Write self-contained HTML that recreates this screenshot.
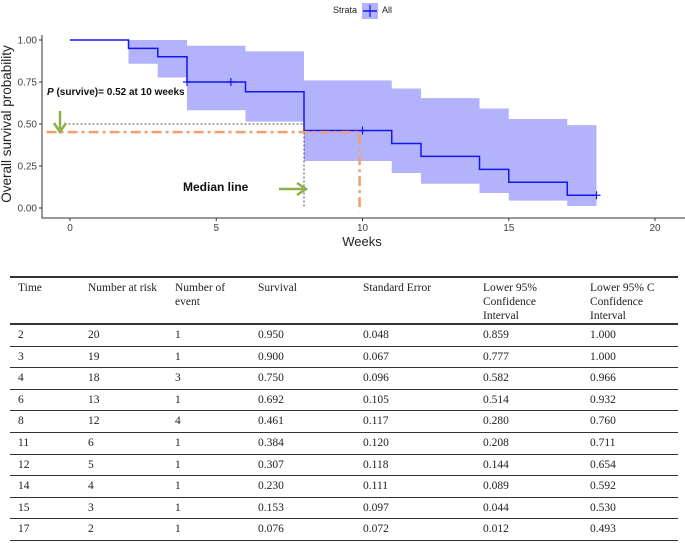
<!DOCTYPE html>
<html><head><meta charset="utf-8"><style>
body{margin:0;background:#fff;width:685px;height:543px;overflow:hidden;position:relative;font-family:"Liberation Sans",sans-serif}
table{position:absolute;left:10px;top:276px;width:668px;border-collapse:collapse;table-layout:fixed;font-family:"Liberation Serif",serif;font-size:11.5px;color:#222}
td{vertical-align:top;padding:3px 0 0 8px;border-bottom:1.3px solid #333;height:17.6px;line-height:14px;white-space:nowrap;overflow:hidden}
thead td{border-top:2px solid #333;border-bottom:2px solid #333;height:40px;line-height:14px}
</style></head><body>
<svg id="chart" width="685" height="260" style="position:absolute;left:0;top:0" font-family="Liberation Sans, sans-serif">
<g>
<text x="333" y="13" font-size="9" fill="#222">Strata</text>
<rect x="362" y="3" width="16" height="16" fill="#b3b3fb"/>
<line x1="363" y1="11" x2="377" y2="11" stroke="#1515f0" stroke-width="1.5"/><line x1="370" y1="5" x2="370" y2="17" stroke="#1515f0" stroke-width="1.2"/>
<text x="382" y="13" font-size="9" fill="#222">All</text></g>
<g id="plot"></g>
</svg>
<table>
<colgroup><col style="width:70px"><col style="width:87px"><col style="width:83px"><col style="width:105px"><col style="width:120px"><col style="width:107px"><col style="width:96px"></colgroup>
<thead><tr><td>Time</td><td>Number at risk</td><td>Number of<br>event</td><td>Survival</td><td>Standard Error</td><td>Lower 95%<br>Confidence<br>Interval</td><td>Lower 95% C<br>Confidence<br>Interval</td></tr></thead>
<tbody id="tb"></tbody></table>
<script>
const times=[2,3,4,6,8,11,12,14,15,17];
const atRisk=[20,19,18,13,12,6,5,4,3,2];
const events=[1,1,3,1,4,1,1,1,1,1];
const surv=[0.950,0.900,0.750,0.692,0.461,0.384,0.307,0.230,0.153,0.076];
const se=[0.048,0.067,0.096,0.105,0.117,0.120,0.118,0.111,0.097,0.072];
const lower=[0.859,0.777,0.582,0.514,0.280,0.208,0.144,0.089,0.044,0.012];
const upper=[1.000,1.000,0.966,0.932,0.760,0.711,0.654,0.592,0.530,0.493];
const censor=[4,5.5,10,18];
const endTime=18;
const xTicks=[0,5,10,15,20];
const yTicks=[0,0.25,0.5,0.75,1];
const X=v=>70+v*29.25, Y=v=>208-v*168;
const NS='http://www.w3.org/2000/svg', g=document.getElementById('plot');
function mk(t,a,n){const e=document.createElementNS(NS,t);for(const k in a)e.setAttribute(k,a[k]);


g.appendChild(e);return e;}
let p='';
for(let i=0;i<times.length;i++){const x0=X(times[i]),x1=X(i<times.length-1?times[i+1]:endTime);
p+=`M${x0},${Y(upper[i])}H${x1}V${Y(lower[i])}H${x0}Z`;}
mk('path',{d:p,fill:'#b3b3fb'},'confidence-band');
let d=`M${X(0)},${Y(1)}`;
for(let i=0;i<times.length;i++){d+=`H${X(times[i])}V${Y(surv[i])}`;}
d+=`H${X(endTime)}`;
mk('path',{d:d,fill:'none',stroke:'#1515f0','stroke-width':1.5},'survival-curve');
function survAt(t){let s=1;for(let i=0;i<times.length;i++)if(times[i]<=t)s=surv[i];return s;}
censor.forEach(c=>{const x=X(c),y=Y(survAt(c));mk('path',{d:`M${x-4},${y}H${x+4}M${x},${y-4}V${y+4}`,stroke:'#1515f0','stroke-width':1.2},'censor-mark');});
mk('path',{d:`M${X(-0.05)},${Y(0.5)}H${X(8)}V${Y(0)}`,fill:'none',stroke:'#222','stroke-width':0.8,'stroke-dasharray':'2,2'},'median-line');
mk('path',{d:`M${X(-0.8)},${Y(0.452)}H${X(9.9)}V${Y(-0.02)}`,fill:'none',stroke:'#f0a070','stroke-width':2.5,'stroke-dasharray':'10,4,3,4'},'prob-line');
mk('path',{d:'M60,111V129M54,123L60,132L66,123',fill:'none',stroke:'#8db04a','stroke-width':2.5},'down-arrow');
mk('path',{d:'M279,189H303M297,183L306,189L297,195',fill:'none',stroke:'#8db04a','stroke-width':2.5},'right-arrow');
const t1=mk('text',{x:47,y:95,'font-size':10,'font-weight':'bold',fill:'#111'},'survive-annotation');t1.innerHTML='<tspan font-style="italic">P</tspan> (survive)= 0.52  at 10 weeks';
const t2=mk('text',{x:183,y:191,'font-size':12,'font-weight':'bold',fill:'#111'},'median-label');t2.textContent='Median line';
mk('path',{d:'M42,35V218H685',fill:'none',stroke:'#333','stroke-width':1},'axes');
xTicks.forEach(v=>{mk('line',{x1:X(v),x2:X(v),y1:218,y2:221,stroke:'#333'},'x-tick');
const t=mk('text',{x:X(v),y:231,'font-size':10,fill:'#444','text-anchor':'middle'},'x-tick-label');t.textContent=v;});
yTicks.forEach(v=>{mk('line',{x1:39,x2:42,y1:Y(v),y2:Y(v),stroke:'#333'},'y-tick');
const t=mk('text',{x:37,y:Y(v)+3.5,'font-size':10,fill:'#444','text-anchor':'end'},'y-tick-label');t.textContent=v.toFixed(2);});
const xt=mk('text',{x:362,y:246,'font-size':13,fill:'#222','text-anchor':'middle'},'x-axis-title');xt.textContent='Weeks';
const yt=mk('text',{x:0,y:0,'font-size':13.5,fill:'#222','text-anchor':'middle',transform:'translate(11,124) rotate(-90)'},'y-axis-title');yt.textContent='Overall survival probability';
const tb=document.getElementById('tb');
for(let i=0;i<times.length;i++){const tr=document.createElement('tr');


[times[i],atRisk[i],events[i],surv[i].toFixed(3),se[i].toFixed(3),lower[i].toFixed(3),upper[i].toFixed(3)].forEach(v=>{const td=document.createElement('td');td.textContent=v;tr.appendChild(td);});
tb.appendChild(tr);}
</script>
</body></html>
